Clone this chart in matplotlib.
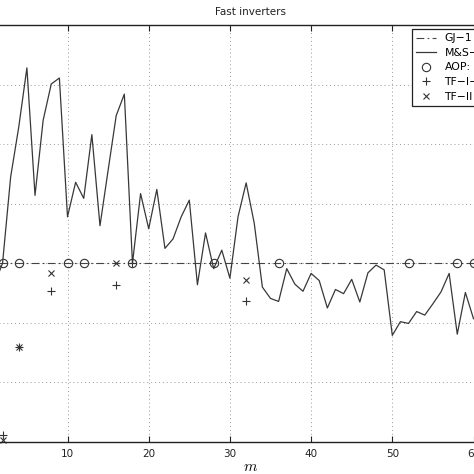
import matplotlib
matplotlib.use("Agg")
from matplotlib import pyplot as plt

# M&S curve (m = 1..60)
ms_m = list(range(1, 61))
ms_val = [-0.35, 0.0, 1.45, 2.29, 3.28, 1.14, 2.40, 3.01, 3.11, 0.78,
          1.36, 1.09, 2.16, 0.63, 1.56, 2.48, 2.84, 0.0, 1.17, 0.58,
          1.24, 0.25, 0.41, 0.78, 1.06, -0.36, 0.51, -0.09, 0.22, -0.25,
          0.78, 1.35, 0.67, -0.40, -0.59, -0.64, -0.09, -0.35, -0.47, -0.17,
          -0.29, -0.75, -0.44, -0.51, -0.27, -0.65, -0.16, -0.03, -0.11, -1.21,
          -0.98, -1.01, -0.81, -0.87, -0.68, -0.48, -0.17, -1.19, -0.49, -0.93]

# GJ-1 reference level
gj_m = [0, 65]
gj_val = [0, 0]

# AOP points
aop_m = [2, 4, 10, 12, 18, 28, 36, 52, 58, 60]
aop_val = [0, 0, 0, 0, 0, 0, 0, 0, 0, 0]

# TF-I points
tf1_m = [2, 4, 8, 16, 18, 32]
tf1_val = [-2.88, -1.41, -0.46, -0.37, 0.0, -0.63]

# TF-II points
tf2_m = [2, 4, 8, 16, 32]
tf2_val = [-2.97, -1.41, -0.17, 0.0, -0.28]

labels = ["GJ\u22121", "M&S\u2212", "AOP:", "TF\u2212I\u2212", "TF\u2212II"]
xticks = list(range(0, 70, 10))
xtick_labels = [""] + [str(t) for t in xticks[1:]]

plt.rcParams["mathtext.fontset"] = "cm"

fig = plt.figure(figsize=(4.74, 4.74), dpi=100)
# the original figure is cropped: axes run past the left and right edges
ax = fig.add_axes([-13.7 / 474, 32 / 474, 527.8 / 474, 417 / 474])

ax.plot(gj_m, gj_val, linestyle=(0, (7, 3, 1.5, 3)), color="#444444", lw=0.8, label=labels[0])
ax.plot(ms_m, ms_val, "-", color="#383838", lw=0.9, label=labels[1])
ax.plot(aop_m, aop_val, "o", mfc="none", mec="#333333", ms=6, mew=0.8, label=labels[2], clip_on=False)
ax.plot(tf1_m, tf1_val, "+", color="#333333", ms=6, mew=0.8, label=labels[3], clip_on=False)
ax.plot(tf2_m, tf2_val, "x", color="#333333", ms=4, mew=0.8, label=labels[4], clip_on=False)

ax.set_xlim(0, 65)
ax.set_ylim(-3, 4)
ax.set_xticks(xticks)
ax.set_xticklabels(xtick_labels)
ax.set_yticks(range(-3, 5))
ax.grid(True, linestyle=(0, (1, 3)), color="#999999", lw=0.7)
ax.tick_params(direction="in", top=True, right=True, labelsize=7.5, length=4,
               colors="#222222", pad=5, labelleft=False)
for s in ax.spines.values():
    s.set_linewidth(1.0)
    s.set_color("#222222")

ax.set_title("Fast inverters", fontsize=7.5, pad=7, color="#222222")
ax.set_xlabel("$m$", fontsize=11, labelpad=0)

leg = ax.legend(loc="upper left", mode="expand",
                bbox_to_anchor=(412 / 474, 0.5, 0.3, 1 - 29 / 474 - 0.5),
                bbox_transform=fig.transFigure, borderaxespad=0,
                fontsize=7.8, fancybox=False, framealpha=1,
                edgecolor="#222222", handlelength=1.8, labelspacing=0.42,
                handletextpad=0.8, borderpad=0.4)
leg.get_frame().set_linewidth(0.9)

fig.savefig("out.png", dpi=100)
